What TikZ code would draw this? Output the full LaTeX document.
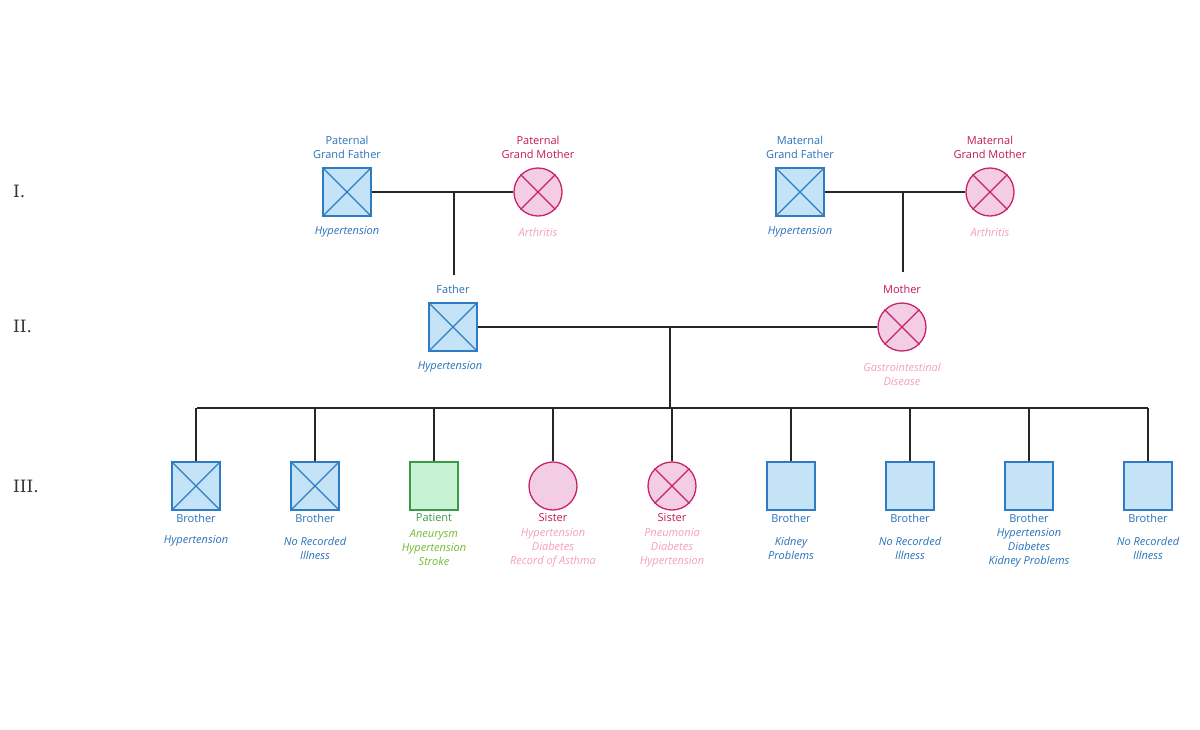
\documentclass[tikz,border=0pt]{standalone}
\usepackage{fontspec}
\setmainfont{Open Sans}
\newfontfamily\numfont{DejaVu Serif}
\begin{document}
\begin{tikzpicture}[x=1pt,y=-1pt,
  bl/.style={draw=blueS,fill=blueF,line width=1.3pt,minimum size=48pt,inner sep=0pt},
  pk/.style={draw=pinkS,fill=pinkF,line width=1.3pt,circle,minimum size=48pt,inner sep=0pt},
  gr/.style={draw=greenS,fill=greenF,line width=1.3pt,minimum size=48pt,inner sep=0pt},
  nm/.style={font=\fontsize{11}{14}\selectfont,align=center,inner sep=0pt},
  ds/.style={font=\fontsize{11}{14}\selectfont\itshape,align=center,inner sep=0pt},
  ln/.style={line width=1.2pt,black!85},
  gen/.style={font=\numfont\fontsize{17}{17}\selectfont,text=black!80,anchor=west,inner sep=0pt}]
\definecolor{blueS}{HTML}{2F7CC5}\definecolor{blueF}{HTML}{C5E3F7}
\definecolor{pinkS}{HTML}{C8236A}\definecolor{pinkF}{HTML}{F3CDE4}
\definecolor{greenS}{HTML}{3A9A4A}\definecolor{greenF}{HTML}{C8F2D4}
\definecolor{blueT}{HTML}{2A72BA}\definecolor{pinkT}{HTML}{C2185B}
\definecolor{pinkD}{HTML}{F5A0B5}\definecolor{greenT}{HTML}{3A9A4A}\definecolor{greenD}{HTML}{72BC32}
\useasboundingbox[fill=white] (0,0) rectangle (1200,729);
\node[gen] (g1) at (13,191) {I.};
\node[gen] (g2) at (13,326) {II.};
\node[gen] (g3) at (13,486) {III.};
% Gen I
\node[bl] (pgf) at (347,192) {};
\node[pk] (pgm) at (538,192) {};
\node[bl] (mgf) at (800,192) {};
\node[pk] (mgm) at (990,192) {};
\node[bl] (fa) at (453,327) {};
\node[pk] (mo) at (902,327) {};
\foreach \n/\c in {pgf/blueS,mgf/blueS,fa/blueS}{
  \draw[\c,line width=1.1pt] (\n.north west)--(\n.south east) (\n.north east)--(\n.south west);}
\draw[pinkS,line width=1.1pt] (pgm.45)--(pgm.225) (pgm.135)--(pgm.315);
\draw[pinkS,line width=1.1pt] (mgm.45)--(mgm.225) (mgm.135)--(mgm.315);
\draw[pinkS,line width=1.1pt] (mo.45)--(mo.225) (mo.135)--(mo.315);
\node[nm,text=blueT] (t1) at (347,147) {Paternal\\Grand Father};
\node[nm,text=pinkT] (t2) at (538,147) {Paternal\\Grand Mother};
\node[nm,text=blueT] (t3) at (800,147) {Maternal\\Grand Father};
\node[nm,text=pinkT] (t4) at (990,147) {Maternal\\Grand Mother};
\node[ds,text=blueT] (d1) at (347,232) {Hypertension};
\node[ds,text=pinkD] (d2) at (538,232) {Arthritis};
\node[ds,text=blueT] (d3) at (800,232) {Hypertension};
\node[ds,text=pinkD] (d4) at (990,232) {Arthritis};
\node[nm,text=blueT] (t5) at (453,289) {Father};
\node[nm,text=pinkT] (t6) at (902,289) {Mother};
\node[ds,text=blueT] (d5) at (450,367) {Hypertension};
\node[ds,text=pinkD] (d6) at (902,374) {Gastrointestinal\\Disease};
\coordinate (pj) at (454,192); \coordinate (mj) at (903,192);
\draw[ln] (pgf.east)--(pgm.west); \draw[ln] (pj)--(454,275);
\draw[ln] (mgf.east)--(mgm.west); \draw[ln] (mj)--(903,272);
\draw[ln] (fa.east)--(mo.west);
\coordinate (sj) at (670,327); \coordinate (sb) at (670,408);
\draw[ln] (sj)--(sb);
\draw[ln] (197,408)--(1148,408);
% Gen III
\foreach \i/\x/\s/\nm/\cl/\dc/\ds/\dy in {
 c1/196/bl/Brother/blueT/blueT/{Hypertension}/541,
 c2/315/bl/Brother/blueT/blueT/{No Recorded\\Illness}/548,
 c3/434/gr/Patient/greenT/greenD/{Aneurysm\\Hypertension\\Stroke}/548,
 c4/553/pk/Sister/pinkT/pinkD/{Hypertension\\Diabetes\\Record of Asthma}/548,
 c5/672/pk/Sister/pinkT/pinkD/{Pneumonia\\Diabetes\\Hypertension}/548,
 c6/791/bl/Brother/blueT/blueT/{Kidney\\Problems}/548,
 c7/910/bl/Brother/blueT/blueT/{No Recorded\\Illness}/548,
 c8/1029/bl/Brother/blueT/blueT/{Hypertension\\Diabetes\\Kidney Problems}/548,
 c9/1148/bl/Brother/blueT/blueT/{No Recorded\\Illness}/548}{
  \node[\s] (\i) at (\x,486) {};
  \node[nm,text=\cl] (\i n) at (\x,518) {\nm};
  \node[ds,text=\dc] (\i d) at (\x,\dy) {\ds};
  \draw[ln] (\x,408)--(\i.north);
}
\foreach \n in {c1,c2}{\draw[blueS,line width=1.1pt] (\n.north west)--(\n.south east) (\n.north east)--(\n.south west);}
\draw[pinkS,line width=1.1pt] (c5.45)--(c5.225) (c5.135)--(c5.315);
\end{tikzpicture}
\end{document}
